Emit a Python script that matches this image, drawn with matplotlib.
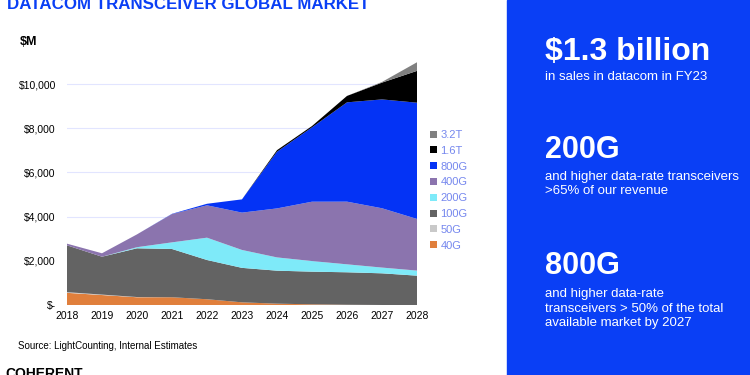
import matplotlib.pyplot as plt
from matplotlib.patches import Rectangle
from matplotlib.ticker import FuncFormatter

plt.rcParams['font.family'] = ['Liberation Sans', 'DejaVu Sans']

years = [2018, 2019, 2020, 2021, 2022, 2023, 2024, 2025, 2026, 2027, 2028]
g40 = [550, 450, 350, 350, 260, 120, 60, 30, 10, 0, 0]
g50 = [30, 20, 10, 0, 0, 0, 0, 0, 0, 0, 0]
g100 = [2120, 1715, 2205, 2184, 1776, 1560, 1493, 1478, 1470, 1433, 1327]
g200 = [0, 0, 50, 300, 1010, 810, 600, 480, 360, 260, 230]
g400 = [75, 155, 580, 1280, 1464, 1690, 2217, 2686, 2836, 2684, 2337]
g800 = [0, 0, 0, 12, 70, 600, 2566, 3364, 4494, 4926, 5260]
t16 = [0, 0, 0, 0, 0, 0, 70, 60, 290, 760, 1440]
t32 = [0, 0, 0, 0, 0, 0, 0, 0, 0, 30, 390]

series = [g40, g50, g100, g200, g400, g800, t16, t32]
labels = ['40G', '50G', '100G', '200G', '400G', '800G', '1.6T', '3.2T']
colors = ['#E07F3C', '#C9C9C9', '#636363', '#7EEAF9', '#8B74AE', '#0433F5', '#000000', '#808080']

blue = '#0A3FF5'

fig = plt.figure(figsize=(7.5, 3.75), dpi=100)
ax = fig.add_axes([0.0893, 0.1867, 0.4667, 0.66])

ax.stackplot(years, *series, labels=labels, colors=colors, linewidth=0)
ax.set_xlim(2018, 2028)
ax.set_ylim(0, 11200)
ax.set_yticks(range(0, 10001, 2000))
ax.set_xticks(years)
ax.yaxis.set_major_formatter(FuncFormatter(lambda v, p: '$-' if v == 0 else '${:,.0f}'.format(v)))
ax.tick_params(length=0, labelsize=7.5, pad=4)
ax.tick_params(axis='y', pad=8)
ax.grid(axis='y', color='#E2E5FF', linewidth=0.8)
ax.set_axisbelow(True)
for s in ax.spines.values():
    s.set_visible(False)

handles, labs = ax.get_legend_handles_labels()
leg = fig.legend(handles[::-1], labs[::-1], loc='upper left', bbox_to_anchor=(0.568, 0.665),
                 frameon=False, fontsize=8, handlelength=0.6, handleheight=0.6,
                 handletextpad=0.3, labelspacing=0.52, borderaxespad=0)
for t in leg.get_texts():
    t.set_color('#7587EE')

# right panel
fig.patches.append(Rectangle((507 / 750, 0), 1, 1, transform=fig.transFigure,
                             color=blue, zorder=0))
x0 = 545 / 750
fig.text(x0, 1 - 60 / 375, '$1.3 billion', color='white', fontsize=23, fontweight='bold')
fig.text(x0, 1 - 80 / 375, 'in sales in datacom in FY23', color='white', fontsize=9.5)
fig.text(x0, 1 - 158 / 375, '200G', color='white', fontsize=22, fontweight='bold')
fig.text(x0, 1 - 194 / 375, 'and higher data-rate transceivers\n>65% of our revenue',
         color='white', fontsize=9.5, linespacing=1.25)
fig.text(x0, 1 - 274 / 375, '800G', color='white', fontsize=22, fontweight='bold')
fig.text(x0, 1 - 326 / 375, 'and higher data-rate\ntransceivers > 50% of the total\navailable market by 2027',
         color='white', fontsize=9.5, linespacing=1.25)

fig.text(7 / 750, 1 - 9 / 375, 'DATACOM TRANSCEIVER GLOBAL MARKET', color=blue,
         fontsize=12.2, fontweight='bold', va='baseline')
fig.text(20 / 750, 1 - 45 / 375, '$M', fontsize=9, fontweight='bold')
fig.text(18 / 750, 1 - 349 / 375, 'Source: LightCounting, Internal Estimates', fontsize=7)
fig.text(5 / 750, 1 - 367 / 375, 'COHERENT', fontsize=10, fontweight='bold', va='top')

fig.savefig('out.png', dpi=100)
